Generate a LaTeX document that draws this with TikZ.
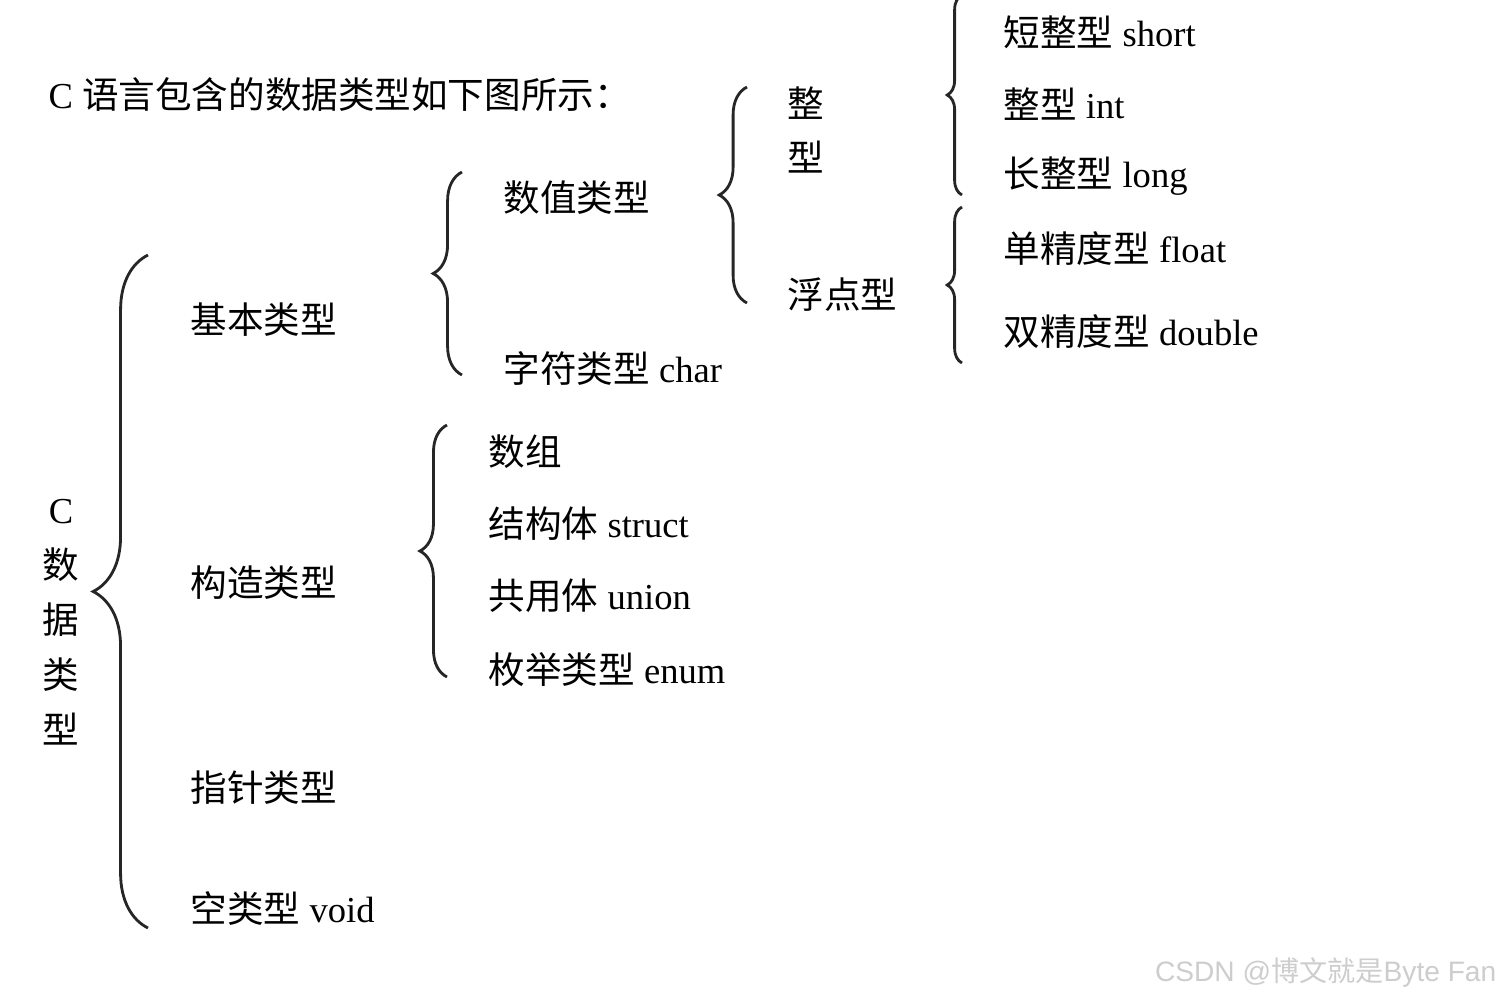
\documentclass[tikz,border=0pt]{standalone}
\usepackage{fontspec}
\setmainfont{Liberation Serif}
\newfontfamily\cjk{Noto Sans CJK SC}
\newfontfamily\wmfont{Liberation Sans}
\usetikzlibrary{decorations.pathreplacing}
\definecolor{wmgray}{RGB}{205,205,205}
\tikzset{
  item/.style={anchor=west, inner sep=0pt, font=\fontsize{10.4}{12}\selectfont},
  curly/.style={decorate, decoration={brace, amplitude=#1}, line width=0.8pt, draw=black!85},
}

\begin{document}
\begin{tikzpicture}[x=0.01cm, y=-0.01cm]
  \useasboundingbox (0,0) rectangle (1502,999);

  \node[item] (title) at (48,95) {C {\cjk 语言包含的数据类型如下图所示：}};

  % columna vertical
  \node[inner sep=0pt, align=center, font=\fontsize{10.4}{15.6}\selectfont] (root) at (61,622)
    {C\\{\cjk 数}\\{\cjk 据}\\{\cjk 类}\\{\cjk 型}};

  \node[item] (basic)  at (190,320) {\cjk 基本类型};
  \node[item] (constr) at (190,583) {\cjk 构造类型};
  \node[item] (ptr)    at (190,788) {\cjk 指针类型};
  \node[item] (void)   at (190,908) {{\cjk 空类型} void};

  \node[item] (num)  at (503,198) {\cjk 数值类型};
  \node[item] (char) at (503,368) {{\cjk 字符类型} char};

  \node[item] (arr)    at (488,452) {\cjk 数组};
  \node[item] (struct) at (488,524) {{\cjk 结构体} struct};
  \node[item] (union)  at (488,596) {{\cjk 共用体} union};
  \node[item] (enum)   at (488,670) {{\cjk 枚举类型} enum};

  \node[inner sep=0pt, align=center, font=\fontsize{10.4}{15.6}\selectfont] (int) at (806,130)
    {{\cjk 整}\\{\cjk 型}};
  \node[item] (flt) at (787,295) {\cjk 浮点型};

  \node[item] (short)  at (1003,32)  {{\cjk 短整型} short};
  \node[item] (intt)   at (1003,104) {{\cjk 整型} int};
  \node[item] (long)   at (1003,176) {{\cjk 长整型} long};
  \node[item] (float)  at (1003,248) {{\cjk 单精度型} float};
  \node[item] (double) at (1003,332) {{\cjk 双精度型} double};

  \draw[curly=15.6pt] (148,928) -- (148,255);
  \draw[curly=8.2pt]  (462,375) -- (462,172);
  \draw[curly=7.7pt]  (447,677) -- (447,425);
  \draw[curly=7.9pt]  (747,303) -- (747,87);
  \draw[curly=4.2pt]  (962,195) -- (962,-5);
  \draw[curly=4.2pt]  (962,363) -- (962,207);

  \node[anchor=east, inner sep=0pt, text=wmgray, font=\wmfont\fontsize{8}{10}\selectfont] (mark) at (1497,972)
    {CSDN @{\cjk 博文就是}Byte Fan};
\end{tikzpicture}
\end{document}
